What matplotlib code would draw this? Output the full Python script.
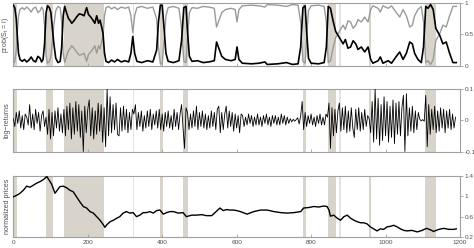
import numpy as np
import matplotlib
matplotlib.use("Agg")
import matplotlib.pyplot as plt

# ---------------- data ----------------
# regime (shaded) periods, in days
shade_start = [0, 88, 136, 394, 456, 778, 845, 955, 1105]
shade_end = [11, 107, 244, 402, 469, 786, 866, 960, 1135]
thin_start = [321, 876]
thin_end = [324, 879]

# probability of regime 1 (black); regime 2 (gray) is its complement
p_days = [0, 4, 8, 11, 14, 18, 24, 30, 36, 42, 48, 54, 60, 66, 72, 76, 80, 84, 88, 92,
          97, 101, 105, 109, 114, 120, 126, 130, 134, 138, 143, 148, 153, 157, 163, 170,
          177, 184, 190, 197, 202, 208, 214, 219, 224, 229, 233, 237, 241, 245, 249, 256,
          264, 272, 280, 290, 300, 310, 316, 321, 326, 332, 345, 360, 375, 385, 390, 395,
          400, 405, 410, 416, 430, 445, 452, 458, 464, 468, 473, 480, 495, 510, 525, 540,
          546, 552, 560, 570, 585, 596, 601, 606, 615, 640, 660, 676, 682, 710, 734, 750,
          765, 772, 778, 784, 788, 793, 800, 820, 835, 841, 846, 852, 859, 866, 873, 879,
          886, 892, 899, 906, 913, 920, 926, 935, 944, 953, 960, 966, 980, 986, 993, 1007,
          1016, 1029, 1038, 1047, 1056, 1065, 1072, 1078, 1087, 1096, 1102, 1108, 1114,
          1121, 1128, 1135, 1146, 1154, 1163, 1172, 1181, 1190]
p_black = [0.97, 0.93, 0.75, 0.45, 0.2, 0.1, 0.07, 0.1, 0.06, 0.09, 0.14, 0.08, 0.06, 0.15,
           0.12, 0.06, 0.1, 0.35, 0.85, 0.96, 0.93, 0.85, 0.6, 0.35, 0.12, 0.05, 0.07, 0.3,
           0.8, 0.95, 0.85, 0.76, 0.72, 0.68, 0.72, 0.78, 0.83, 0.82, 0.8, 0.93, 0.82, 0.78,
           0.73, 0.68, 0.8, 0.68, 0.73, 0.63, 0.52, 0.2, 0.07, 0.05, 0.09, 0.06, 0.1, 0.06,
           0.08, 0.06, 0.2, 0.47, 0.2, 0.07, 0.05, 0.08, 0.06, 0.25, 0.7, 0.97, 0.97, 0.6,
           0.2, 0.07, 0.05, 0.08, 0.4, 0.93, 0.95, 0.55, 0.15, 0.07, 0.08, 0.05, 0.06, 0.08,
           0.38, 0.28, 0.15, 0.1, 0.08, 0.1, 0.3, 0.1, 0.04, 0.03, 0.04, 0.06, 0.02, 0.03,
           0.05, 0.02, 0.03, 0.3, 0.93, 0.96, 0.55, 0.12, 0.04, 0.03, 0.05, 0.3, 0.95, 0.92,
           0.72, 0.55, 0.48, 0.42, 0.35, 0.42, 0.28, 0.3, 0.4, 0.35, 0.26, 0.3, 0.22, 0.3,
           0.1, 0.04, 0.08, 0.14, 0.04, 0.08, 0.04, 0.15, 0.22, 0.1, 0.2, 0.38, 0.35, 0.2,
           0.1, 0.05, 0.3, 0.95, 0.92, 0.98, 0.9, 0.6, 0.48, 0.35, 0.38, 0.2, 0.05, 0.05]

# log-returns (in thousandths), one value every 4 days
ret_step = 4
log_ret_milli = (
    [5, -20, 25, -10, 30, -25, 15, -30, 20, 10, -15, 50, -25, 20, -30, 35, -10, 25, -35, 15, 30, -20, 10]
    + [-45, 35, -60, 25, -50]
    + [30, -25, 40, -35, 20, -40, 35]
    + [-50, 45, -30, 55, -60, 40, -45, 60, -35, 50, -55, 30, -100, 45, -40, 35, 65, -50, 40, -60,
       30, -45, 55, -35, 50, -70, 40]
    + [-85, 100, -50]
    + [75, -40, 50, -30, 55, -45, -50, 40, -35, 45, -30, 35, -40, 25, -30, 35]
    + [20, 50, -30, 25, -20, 30, -35, 15, -25, 30, -20, 35, -30, 20, -15, 30, -25, 35, -30, 20,
       -35, 25, -20, 30, -25, 15, -30, 35, -20, 25, -30, 20, 50, -25]
    + [-90, 40]
    + [25, -30, 20, -25, 30, -20, 45, -30, 25, -20, 30, -25, 20, -30, 15, -25, 30, -20, 25, -30,
       35, 45, -40, 25, -30, 20, 45, -25, 30, -20, 25, -35, 20, -25, 15, -40, 20]
    + [15, -20, 10, -15, 20, -10, 15, -20, 10, -15, 20, -15, 10, -20, 15, -10, 20, -15, 10, -20,
       15, -10, 15, -15, 10, -15, 20, -10, 15, -15, 10, -10, 5, -5, 3, -3, 2, 8, -12, 15]
    + [60, -30, 25]
    + [-20, 15, -10, 20, -15, 10, -20, 15, -10, 20, -15, 10, -15, 20, 10]
    + [55, -90, 40, -50, 35]
    + [-40, 30, 55, -35, 40, -30, 45, -40, 30, -35, 40, -25, -55, 35, -30, 40, -35, 25, -30, 35, -20, 15]
    + [5, -40, 60, -70, 100, -60, 70, -80, 50, -65, 75, -50, 60, -70, 45, -55, 65, -75, 55, -45,
       60, -50, 40, 80, -100, 85]
    + [-50, 40, -35, 45, -40, 30, -30, 25, 3, -2, 2, -3]
    + [80, -85, 50]
    + [-45, 35, -30, 45, -40, 30, -35, 40, -25, 35, -40, 30, -25, 35, -30, 20, -25, 10]
)

# normalized prices
price_days = [0, 9, 18, 27, 36, 45, 54, 63, 72, 81, 90, 97, 103, 112, 118, 125, 134, 143, 152,
              161, 170, 179, 188, 197, 206, 215, 224, 233, 242, 246, 251, 260, 269, 278, 286,
              295, 304, 313, 322, 331, 340, 349, 358, 367, 376, 385, 394, 403, 412, 421, 430,
              443, 456, 465, 479, 492, 506, 519, 533, 542, 555, 564, 573, 582, 592, 600, 610,
              628, 646, 664, 682, 700, 718, 736, 754, 772, 780, 794, 807, 821, 834, 843, 848,
              852, 861, 870, 879, 888, 897, 906, 915, 924, 933, 941, 950, 959, 968, 977, 986,
              995, 1004, 1013, 1022, 1031, 1040, 1049, 1058, 1071, 1085, 1098, 1110, 1121,
              1129, 1143, 1156, 1170, 1183, 1190]
price_vals = [0.99, 1.02, 1.06, 1.12, 1.20, 1.18, 1.22, 1.26, 1.29, 1.33, 1.39, 1.31, 1.24,
              1.06, 1.12, 1.19, 1.20, 1.17, 1.12, 1.09, 0.99, 0.89, 0.80, 0.77, 0.70, 0.67,
              0.60, 0.53, 0.44, 0.39, 0.44, 0.50, 0.53, 0.57, 0.60, 0.67, 0.70, 0.67, 0.68,
              0.60, 0.63, 0.68, 0.68, 0.70, 0.67, 0.72, 0.73, 0.65, 0.68, 0.70, 0.70, 0.67,
              0.68, 0.60, 0.63, 0.63, 0.64, 0.62, 0.62, 0.68, 0.77, 0.72, 0.74, 0.73, 0.73,
              0.72, 0.70, 0.65, 0.70, 0.73, 0.73, 0.70, 0.68, 0.67, 0.68, 0.70, 0.77, 0.78,
              0.80, 0.79, 0.81, 0.80, 0.73, 0.61, 0.63, 0.57, 0.53, 0.60, 0.63, 0.57, 0.53,
              0.50, 0.48, 0.48, 0.46, 0.40, 0.36, 0.32, 0.36, 0.35, 0.40, 0.41, 0.43, 0.40,
              0.36, 0.33, 0.32, 0.33, 0.30, 0.33, 0.37, 0.34, 0.31, 0.35, 0.37, 0.35, 0.35, 0.36]

x_ticks = [0, 200, 400, 600, 800, 1000, 1200]
x_ticklabels = ["0", "200", "400", "600", "800", "1000", "1200"]
top_yticks, top_ylabels = [0, 0.5, 1], ["0", "0.5", "1"]
mid_yticks, mid_ylabels = [-0.1, 0, 0.1], ["-0.1", "0", "0.1"]
bot_yticks, bot_ylabels = [0.2, 0.6, 1.0, 1.4], ["0.2", "0.6", "1", "1.4"]

# ---------------- plot ----------------
plt.rcParams['font.family'] = ['Liberation Sans', 'DejaVu Sans']
plt.rcParams['mathtext.fontset'] = 'custom'
plt.rcParams['mathtext.rm'] = 'Liberation Sans'
plt.rcParams['mathtext.it'] = 'Liberation Sans'
fig = plt.figure(figsize=(4.74, 2.48), dpi=100)

W, H = 474.0, 248.0
left, right = 13.3 / W, 460.0 / W
axes_px = [(3.3, 65.7), (89.0, 151.5), (176.0, 237.0)]
axs = []
for top, bot in axes_px:
    ax = fig.add_axes([left, 1 - bot / H, right - left, (bot - top) / H])
    axs.append(ax)

shade_col = '#d8d4cb'
thin_col = '#e6e3de'
spine_col = '#a0a0a0'
text_col = '#505050'

for ax in axs:
    for s, e in zip(shade_start, shade_end):
        ax.axvspan(s, e, color=shade_col, lw=0, zorder=0)
    for s, e in zip(thin_start, thin_end):
        ax.axvspan(s, e, color=thin_col, lw=0, zorder=0)
    ax.set_xlim(0, 1200)
    ax.set_xticks(x_ticks)
    for sp in ax.spines.values():
        sp.set_color(spine_col)
        sp.set_linewidth(0.8)
    ax.yaxis.tick_right()
    ax.tick_params(axis='y', direction='out', length=2.5, width=0.6, colors=spine_col,
                   labelcolor=text_col, labelsize=4.6, pad=1)
    ax.tick_params(axis='x', direction='in', length=2, width=0.6, colors=spine_col,
                   labelcolor=text_col, labelsize=4.6, pad=2)

# top: probabilities
p_black_arr = np.array(p_black)
axs[0].plot(p_days, 1 - p_black_arr, color='#9a9a9a', lw=1.0, zorder=2)
axs[0].plot(p_days, p_black_arr, color='black', lw=1.2, zorder=3)
axs[0].set_ylim(0, 1)
axs[0].set_yticks(top_yticks)
axs[0].set_yticklabels(top_ylabels)
axs[0].set_xticklabels([])
axs[0].set_ylabel("prob(S$_\\mathrm{t}$ = i)", fontsize=5.0, color=text_col)

# middle: log-returns
ret = np.array(log_ret_milli) / 1000.0
ret_days = np.arange(len(ret)) * ret_step
axs[1].plot(ret_days, ret, color='black', lw=0.6, zorder=3)
axs[1].set_ylim(-0.1, 0.1)
axs[1].set_yticks(mid_yticks)
axs[1].set_yticklabels(mid_ylabels)
axs[1].set_xticklabels([])
axs[1].set_ylabel("log\u2212returns", fontsize=5.0, color=text_col)

# bottom: normalized prices
axs[2].plot(price_days, price_vals, color='black', lw=1.0, zorder=3)
axs[2].set_ylim(0.2, 1.4)
axs[2].set_yticks(bot_yticks)
axs[2].set_yticklabels(bot_ylabels)
axs[2].set_xticklabels(x_ticklabels)
axs[2].set_ylabel("normalized prices", fontsize=5.0, color=text_col)

for ax in axs:
    ax.yaxis.set_label_coords(-0.006, 0.5)

fig.savefig("out.png", dpi=100)
